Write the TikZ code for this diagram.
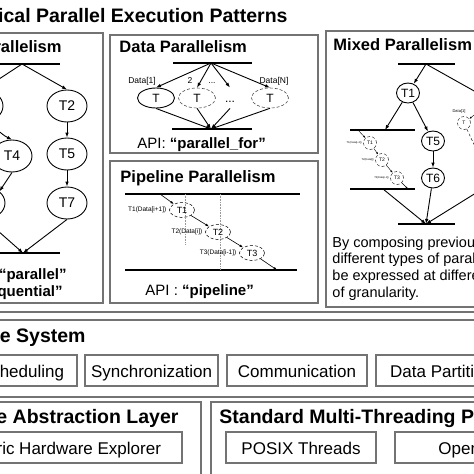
\documentclass[tikz,border=0pt]{standalone}
\usepackage{fontspec}
\setmainfont{Liberation Sans}
\usepackage{tikz}
\usetikzlibrary{positioning,shapes.geometric,arrows.meta}

\newcommand{\fsz}[1]{\fontsize{#1}{#1}\selectfont}

\begin{document}
\begin{tikzpicture}[x=1pt, y=-1pt, line width=0.9pt, >={Latex[length=5pt,width=3.6pt]}]
    \tikzstyle{frame}=[draw=black!55, line width=1.1pt]
    \tikzstyle{bar}=[line width=2.2pt]
    \tikzstyle{thinbar}=[line width=1.5pt]
    \tikzstyle{task}=[ellipse, draw, minimum width=40pt, minimum height=32pt, inner sep=0pt, font=\fsz{14}]
    \tikzstyle{dtask}=[ellipse, draw, minimum width=37pt, minimum height=20pt, inner sep=0pt, text height=8pt, text depth=0pt, font=\fsz{12}]
    \tikzstyle{ptask}=[ellipse, draw, densely dashed, line width=0.5pt, minimum width=25pt, minimum height=15pt, inner sep=0pt, font=\fsz{9}]
    \tikzstyle{mtask}=[ellipse, draw, minimum width=23pt, minimum height=20pt, inner sep=0pt, font=\fsz{12}]
    \tikzstyle{mini}=[circle, draw, densely dashed, line width=0.4pt, minimum size=13pt, inner sep=0pt, font=\fsz{5}]
    \tikzstyle{dlabel}=[inner sep=0pt, text height=6pt, text depth=0pt, font=\fsz{8.5}]
    \tikzstyle{plabel}=[inner sep=0pt, font=\fsz{6.5}]
    \tikzstyle{mlabel}=[inner sep=0pt, font=\fsz{2.6}]
    \tikzstyle{arr}=[->]
    \tikzstyle{parr}=[-{Latex[length=3.5pt,width=2.6pt]}, line width=0.6pt]
    \tikzstyle{marr}=[-{Latex[length=2.5pt,width=1.8pt]}, line width=0.4pt]
    \tikzstyle{heading}=[inner sep=0pt, anchor=base west, font=\bfseries\fsz{19.5}]
    \tikzstyle{ptitle}=[inner sep=0pt, anchor=base west, font=\bfseries\fsz{16.5}]
    \tikzstyle{api}=[inner sep=0pt, anchor=base west, font=\fsz{15}]
    \tikzstyle{para}=[inner sep=0pt, anchor=base west, font=\fsz{14.5}]
    \tikzstyle{sbox}=[draw=black!55, line width=1.1pt, minimum height=31pt, inner sep=0pt, text height=14pt, text depth=0pt, font=\fsz{17}]

    \useasboundingbox (0,0) rectangle (474,474);
    \clip (0,0) rectangle (474,474);

    % Frames
    \draw[frame] (-50,-10) rectangle (520,312);
    \draw[frame] (-50,320) rectangle (520,397);
    \draw[frame] (-50,402) rectangle (201,520);
    \draw[frame] (211,402) rectangle (520,520);
    \draw[frame] (-50,33) rectangle (103,303);
    \draw[frame] (110,35) rectangle (318,153);
    \draw[frame] (110,161) rectangle (318,303);
    \draw[frame] (326,31) rectangle (520,307);

    \node[heading, anchor=base east] (title) at (288,22) {Typical Parallel Execution Patterns};

    % Task parallelism
    \node[ptitle, anchor=base east] (taskT) at (62,52) {Task Parallelism};
    \coordinate (tfork) at (22,64);
    \coordinate (tjoin) at (23,253);
    \draw[bar] (-20,64) -- (60,64);
    \draw[bar] (-20,253) -- (60,253);
    \node[task] (T1) at (-17,106) {T1};
    \node[task] (T2) at (67,106) {T2};
    \node[task] (T4) at (12,156) {T4};
    \node[task] (T5) at (67,154) {T5};
    \node[task] (T6) at (-15,203) {T6};
    \node[task] (T7) at (67,203) {T7};
    \draw[arr] (tfork) -- (T1.north);
    \draw[arr] (tfork) -- (T2.north);
    \draw[arr] (T2) -- (T5);
    \draw[arr] (T5) -- (T7);
    \draw[arr] (T1.south) to[out=-15, in=155] (T4.north);
    \draw[arr] (T4.south) -- (T6.north east);
    \draw[arr] (T7.south) -- (tjoin);
    \draw[arr] (T6.south) -- (tjoin);
    \node[api, anchor=base east] (taskA) at (67,279) {\textbf{“parallel”}};
    \node[api, anchor=base east] (taskB) at (63,296) {\textbf{“sequential”}};

    % Data parallelism
    \node[ptitle] (dataT) at (119,52) {Data Parallelism};
    \coordinate (dfork) at (211,63);
    \coordinate (djoin) at (211,129);
    \draw[bar] (173,63) -- (252,63);
    \draw[bar] (172,129) -- (252,129);
    \node[dtask] (D1) at (156,98) {T};
    \node[dtask, densely dashed, draw=black!70, line width=0.6pt] (D2) at (197,98) {T};
    \node[dtask, draw=none] (D3) at (230,98) {...};
    \node[dtask, densely dashed, draw=black!70, line width=0.6pt] (DN) at (270,98) {T};
    \node[dlabel] (dl1) at (142,80) {Data[1]};
    \node[dlabel] (dl2) at (190,80) {2};
    \node[dlabel] (dl3) at (212,80) {...};
    \node[dlabel] (dlN) at (274,80) {Data[N]};
    \foreach \n in {D1,D2,D3,DN} {
        \draw[arr] (dfork) -- (\n.north);
        \draw[arr] (\n.south) -- (djoin);
    }
    \node[api] (dataA) at (137,148) {API: \textbf{“parallel\_for”}};

    % Pipeline parallelism
    \node[ptitle] (pipeT) at (120,182) {Pipeline Parallelism};
    \coordinate (pin) at (160,194);
    \coordinate (pout) at (277,270);
    \draw[thinbar] (125,194) -- (300,194);
    \draw[thinbar] (125,270) -- (297,270);
    \draw[densely dotted, black!40, line width=0.6pt] (185,194) -- (185,245);
    \draw[densely dotted, black!40, line width=0.6pt] (220,194) -- (220,270);
    \node[ptask] (P1) at (182,210) {T1};
    \node[ptask] (P2) at (218,232) {T2};
    \node[ptask] (P3) at (252,253) {T3};
    \node[plabel, left=2.5pt of P1] (pl1) {T1(Data[i+1])};
    \node[plabel, left=2.5pt of P2] (pl2) {T2(Data[i])};
    \node[plabel, left=2.5pt of P3] (pl3) {T3(Data[i-1])};
    \draw[parr] (pin) -- (P1);
    \draw[parr] (P1) -- (P2);
    \draw[parr] (P2) -- (P3);
    \draw[parr] (P3) -- (pout);
    \node[api] (pipeA) at (145,295) {API : \textbf{“pipeline”}};

    % Mixed parallelism
    \node[ptitle] (mixT) at (333,50) {Mixed Parallelism};
    \coordinate (mfork) at (426,64);
    \coordinate (mjoin) at (426,224);
    \coordinate (mleft) at (385,130);
    \coordinate (rfork) at (492,101);
    \coordinate (rjoin) at (492,183);
    \draw[thinbar] (398,64) -- (455,64);
    \draw[thinbar] (398,224) -- (455,224);
    \node[mtask] (M1) at (408,93) {T1};
    \node[mtask] (M5) at (433,141) {T5};
    \node[mtask] (M6) at (433,178) {T6};
    \draw[arr] (mfork) -- (M1);
    \draw[arr] (mfork) -- (rfork);
    \draw[arr] (M1) -- (mleft);
    \draw[arr] (M1) -- (M5);
    \draw[arr] (M5) -- (M6);
    % nested pipeline
    \coordinate (qin) at (358,130);
    \coordinate (qout) at (408,189);
    \coordinate (qjoin) at (383,189);
    \draw[line width=1.2pt] (350,130) -- (415,130);
    \draw[line width=1.2pt] (350,189) -- (415,189);
    \node[mini] (q1) at (370,143) {T1};
    \node[mini] (q2) at (382,160) {T2};
    \node[mini] (q3) at (397,178) {T3};
    \node[mlabel, left=1pt of q1] (ql1) {T1(Data[i+1])};
    \node[mlabel, left=1pt of q2] (ql2) {T2(Data[i])};
    \node[mlabel, left=1pt of q3] (ql3) {T3(Data[i-1])};
    \draw[marr] (qin) -- (q1);
    \draw[marr] (q1) -- (q2);
    \draw[marr] (q2) -- (q3);
    \draw[marr] (q3) -- (qout);
    % nested data parallel
    \node[mini] (r1) at (464,123) {T};
    \node[mlabel, font=\fsz{4}] (rl1) at (459,111) {Data[1]};
    \draw[marr] (rfork) -- (r1);
    \draw[marr, densely dashed] (r1) -- (rjoin);
    \draw[arr] (qjoin) -- (mjoin);
    \draw[arr] (M6) -- (mjoin);
    \draw[arr] (rjoin) -- (mjoin);
    \foreach \l [count=\i] in {By composing previous, different types of parallelism, be expressed at different, of granularity.}
        \node[para] (txt\i) at (332,{230.3+16.7*\i}) {\l};

    % Runtime system
    \node[heading, anchor=base east] (rtT) at (86,342) {Runtime System};
    \node[sbox, minimum width=110pt] (sched) at (22,370.5) {Scheduling};
    \node[sbox, minimum width=133pt] (sync) at (151.5,370.5) {Synchronization};
    \node[sbox, minimum width=140pt] (comm) at (297,370.5) {Communication};
    \node[sbox, minimum width=154pt] (part) at (453,370.5) {Data Partitioning};

    % Hardware abstraction and threading
    \node[heading, anchor=base east] (halT) at (179,423) {Hardware Abstraction Layer};
    \node[heading] (smtT) at (219,423) {Standard Multi-Threading Programming};
    \node[sbox, minimum width=248pt] (hwe) at (58,447.5) {Generic Hardware Explorer};
    \node[sbox, minimum width=150pt] (posix) at (301,447.5) {POSIX Threads};
    \node[sbox, minimum width=154pt] (omp) at (472,447.5) {OpenMP};
\end{tikzpicture}
\end{document}
